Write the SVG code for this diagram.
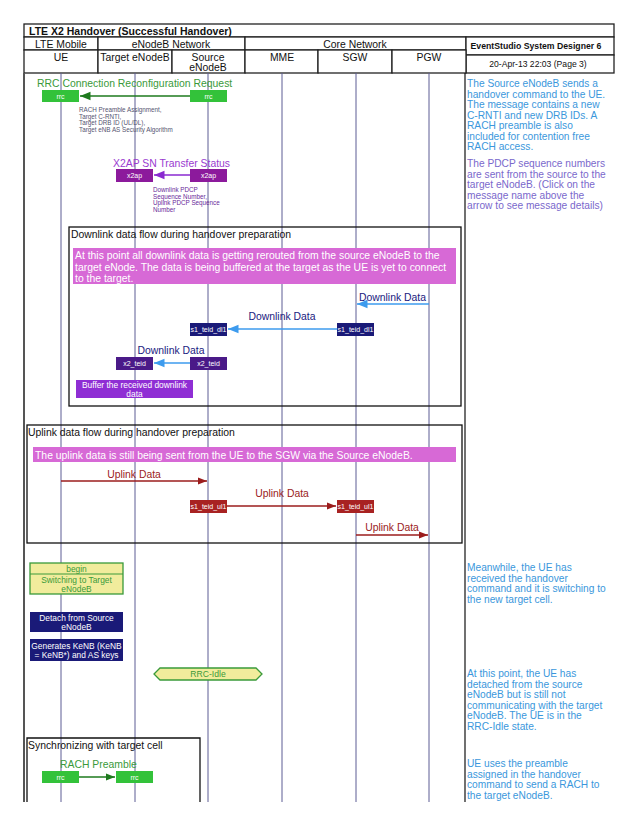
<svg xmlns="http://www.w3.org/2000/svg" width="638" height="826" viewBox="0 0 638 826">
<defs>
<style>
text{font-family:"Liberation Sans",Arial,sans-serif}
.hdr{font-size:10.4px;fill:#111;text-anchor:middle}
.life{stroke:#5c5c94;stroke-width:1}
.frame{fill:none;stroke:#111;stroke-width:1.3}
.cell{fill:#fff;stroke:#222;stroke-width:1.3}
.tag{font-size:7px;fill:#fff;text-anchor:middle}
.param{font-size:6.3px;fill:#555570}
.note{font-size:10.2px;fill:#3a97dc}
.note2{font-size:10.2px;fill:#7a68cc}
.msgT{font-size:10.4px}
.dl{font-size:10.4px;fill:#1a1a80}
.ul{font-size:10.4px;fill:#9b1c1c}
.wt{font-size:8.4px;fill:#fff;text-anchor:middle}
.ftitle{font-size:10.4px;fill:#111}
</style>
<marker id="aG" viewBox="0 0 10 10" refX="10" refY="5" markerWidth="7" markerHeight="7" orient="auto"><path d="M0,1 L10,5 L0,9 z" fill="#1e7a1e"/></marker>
<marker id="aP" viewBox="0 0 10 10" refX="10" refY="5" markerWidth="7" markerHeight="7" orient="auto"><path d="M0,1 L10,5 L0,9 z" fill="#8a2ad0"/></marker>
<marker id="aB" viewBox="0 0 10 10" refX="10" refY="5" markerWidth="7" markerHeight="7" orient="auto"><path d="M0,1 L10,5 L0,9 z" fill="#3d9bee"/></marker>
<marker id="aR" viewBox="0 0 10 10" refX="10" refY="5" markerWidth="7" markerHeight="7" orient="auto"><path d="M0,1 L10,5 L0,9 z" fill="#9b1c1c"/></marker>
</defs>
<rect width="638" height="826" fill="#fff"/>

<g id="header">
<rect x="24" y="24" width="590" height="13" class="cell"/>
<text x="29" y="34.5" font-size="10.5" font-weight="bold" fill="#111">LTE X2 Handover (Successful Handover)</text>
<rect x="24" y="37" width="74" height="13" class="cell"/>
<rect x="98" y="37" width="147" height="13" class="cell"/>
<rect x="245" y="37" width="221" height="13" class="cell"/>
<rect x="466" y="37" width="148" height="18" class="cell"/>
<rect x="466" y="55" width="148" height="18" class="cell"/>
<rect x="24" y="50" width="74" height="23" class="cell"/>
<rect x="98" y="50" width="74" height="23" class="cell"/>
<rect x="172" y="50" width="73" height="23" class="cell"/>
<rect x="245" y="50" width="73" height="23" class="cell"/>
<rect x="318" y="50" width="74" height="23" class="cell"/>
<rect x="392" y="50" width="74" height="23" class="cell"/>
<text x="61" y="47.5" class="hdr">LTE Mobile</text>
<text x="171" y="47.5" class="hdr">eNodeB Network</text>
<text x="355" y="47.5" class="hdr">Core Network</text>
<text x="536" y="49" font-size="8.7" font-weight="bold" text-anchor="middle" fill="#111">EventStudio System Designer 6</text>
<text x="538" y="67" font-size="8.6" text-anchor="middle" fill="#111">20-Apr-13 22:03 (Page 3)</text>
<text x="61" y="60.5" class="hdr">UE</text>
<text x="135" y="60.5" class="hdr">Target eNodeB</text>
<text x="208" y="60.5" class="hdr">Source</text>
<text x="208" y="71" class="hdr">eNodeB</text>
<text x="282" y="60.5" class="hdr">MME</text>
<text x="355" y="60.5" class="hdr">SGW</text>
<text x="429" y="60.5" class="hdr">PGW</text>
</g>

<g id="page-borders">
<line x1="24" y1="73" x2="24" y2="802" stroke="#555" stroke-width="2"/>
<line x1="465" y1="73" x2="465" y2="802" stroke="#111" stroke-width="1.2"/>
</g>

<g id="lifelines">
<line x1="61" y1="73" x2="61" y2="802" class="life"/>
<line x1="135" y1="73" x2="135" y2="802" class="life"/>
<line x1="208" y1="73" x2="208" y2="802" class="life"/>
<line x1="282" y1="73" x2="282" y2="802" class="life"/>
<line x1="356" y1="73" x2="356" y2="802" class="life"/>
<line x1="429" y1="73" x2="429" y2="802" class="life"/>
</g>

<g id="frame-downlink">
<rect x="69" y="227" width="392" height="179" class="frame"/>
<text x="71" y="238" class="ftitle">Downlink data flow during handover preparation</text>
</g>
<g id="frame-uplink">
<rect x="27" y="425" width="435" height="118" class="frame"/>
<text x="28" y="436" class="ftitle">Uplink data flow during handover preparation</text>
</g>
<g id="frame-sync">
<path d="M27,802 V738 H200 V802" class="frame"/>
<text x="28" y="749" class="ftitle">Synchronizing with target cell</text>
</g>

<g id="connectors">
<line x1="190" y1="96" x2="80" y2="96" stroke="#1e7a1e" stroke-width="1.5" marker-end="url(#aG)"/>
<line x1="190" y1="175" x2="154" y2="175" stroke="#8a2ad0" stroke-width="1.5" marker-end="url(#aP)"/>
<line x1="429" y1="304" x2="357" y2="304" stroke="#3d9bee" stroke-width="1.5" marker-end="url(#aB)"/>
<line x1="337" y1="329" x2="228" y2="329" stroke="#3d9bee" stroke-width="1.5" marker-end="url(#aB)"/>
<line x1="190" y1="363" x2="154" y2="363" stroke="#3d9bee" stroke-width="1.5" marker-end="url(#aB)"/>
<line x1="61" y1="481" x2="207" y2="481" stroke="#9b1c1c" stroke-width="1.3" marker-end="url(#aR)"/>
<line x1="227" y1="506" x2="336" y2="506" stroke="#9b1c1c" stroke-width="1.3" marker-end="url(#aR)"/>
<line x1="356" y1="535" x2="428" y2="535" stroke="#9b1c1c" stroke-width="1.3" marker-end="url(#aR)"/>
<line x1="79" y1="777" x2="115" y2="777" stroke="#1e7a1e" stroke-width="1.3" marker-end="url(#aG)"/>
</g>

<g id="msg-rrc-reconfig">
<text x="37" y="86.5" class="msgT" fill="#3a9a3a">RRC Connection Reconfiguration Request</text>
<rect x="42" y="90" width="37" height="12" fill="#33c23a"/>
<text x="60.5" y="98.5" class="tag">rrc</text>
<rect x="190" y="90" width="37" height="12" fill="#33c23a"/>
<text x="208.5" y="98.5" class="tag">rrc</text>
<text class="param"><tspan x="79" y="112">RACH Preamble Assignment,</tspan><tspan x="79" y="118.5">Target C-RNTI,</tspan><tspan x="79" y="125">Target DRB ID (UL/DL),</tspan><tspan x="79" y="131.5">Target eNB AS Security Algorithm</tspan></text>
</g>

<g id="msg-x2ap">
<text x="113" y="166.5" class="msgT" fill="#9a3ad0">X2AP SN Transfer Status</text>
<rect x="116" y="169" width="37" height="13" fill="#8c1a9c"/>
<text x="134.5" y="178" class="tag">x2ap</text>
<rect x="190" y="169" width="37" height="13" fill="#8c1a9c"/>
<text x="208.5" y="178" class="tag">x2ap</text>
<text class="param" style="fill:#6a2a9a"><tspan x="153" y="192">Downlink PDCP</tspan><tspan x="153" y="198.5">Sequence Number,</tspan><tspan x="153" y="205">Uplink PDCP Sequence</tspan><tspan x="153" y="211.5">Number</tspan></text>
</g>

<g id="note-downlink">
<rect x="73" y="248" width="383" height="36" fill="#d769d6"/>
<text font-size="10.4" fill="#fff"><tspan x="75" y="259">At this point all downlink data is getting rerouted from the source eNodeB to the</tspan><tspan x="75" y="270.5">target eNode.  The data is being buffered at the target as the UE is yet to connect</tspan><tspan x="75" y="282">to the target.</tspan></text>
</g>

<g id="msg-dl-pgw-sgw">
<text x="359" y="301" class="dl">Downlink Data</text>
</g>
<g id="msg-dl-sgw-src">
<text x="282" y="320" class="dl" text-anchor="middle">Downlink Data</text>
<rect x="190" y="323" width="37" height="13" fill="#1a1a78"/>
<text x="208.5" y="332" class="tag">s1_teid_dl1</text>
<rect x="337" y="323" width="37" height="13" fill="#1a1a78"/>
<text x="355.5" y="332" class="tag">s1_teid_dl1</text>
</g>
<g id="msg-dl-src-tgt">
<text x="171" y="354" class="dl" text-anchor="middle">Downlink Data</text>
<rect x="116" y="357" width="37" height="13" fill="#4a1a88"/>
<text x="134.5" y="366" class="tag">x2_teid</text>
<rect x="190" y="357" width="37" height="13" fill="#4a1a88"/>
<text x="208.5" y="366" class="tag">x2_teid</text>
</g>
<g id="action-buffer">
<rect x="76" y="380" width="117" height="18" fill="#8f2ed4"/>
<text x="134.5" y="388" class="wt">Buffer the received downlink</text>
<text x="134.5" y="396.5" class="wt">data</text>
</g>

<g id="note-uplink">
<rect x="33" y="447" width="423" height="15" fill="#d769d6"/>
<text x="35" y="458.5" font-size="10.4" fill="#fff">The uplink data is still being sent from the UE to the SGW via the Source eNodeB.</text>
</g>
<g id="msg-ul-ue-src">
<text x="134" y="478" class="ul" text-anchor="middle">Uplink Data</text>
</g>
<g id="msg-ul-src-sgw">
<text x="282" y="497" class="ul" text-anchor="middle">Uplink Data</text>
<rect x="190" y="500" width="37" height="13" fill="#a82222"/>
<text x="208.5" y="509" class="tag">s1_teid_ul1</text>
<rect x="337" y="500" width="37" height="13" fill="#a82222"/>
<text x="355.5" y="509" class="tag">s1_teid_ul1</text>
</g>
<g id="msg-ul-sgw-pgw">
<text x="392" y="531" class="ul" text-anchor="middle">Uplink Data</text>
</g>

<g id="action-begin">
<rect x="30" y="563" width="93" height="31" fill="#f1ec9c" stroke="#3a9a3a" stroke-width="1.3"/>
<line x1="30" y1="574" x2="123" y2="574" stroke="#3a9a3a" stroke-width="1"/>
<text x="76.5" y="571.5" font-size="8.4" fill="#3a9a3a" text-anchor="middle">begin</text>
<text x="76.5" y="582.5" font-size="8.4" fill="#3a9a3a" text-anchor="middle">Switching to Target</text>
<text x="76.5" y="591.5" font-size="8.4" fill="#3a9a3a" text-anchor="middle">eNodeB</text>
</g>
<g id="action-detach">
<rect x="30" y="612" width="93" height="20" fill="#1a1a78"/>
<text x="76.5" y="620.5" class="wt">Detach from Source</text>
<text x="76.5" y="629.5" class="wt">eNodeB</text>
</g>
<g id="action-keys">
<rect x="30" y="639" width="93" height="22" fill="#1a1a78"/>
<text x="76.5" y="648.5" class="wt">Generates KeNB (KeNB</text>
<text x="76.5" y="657.5" class="wt">= KeNB*) and AS keys</text>
</g>
<g id="state-rrc-idle">
<path d="M160,668 H256 L262,674 L256,680 H160 L154,674 Z" fill="#f1ec9c" stroke="#3a9a3a" stroke-width="1.3"/>
<text x="208" y="677.3" font-size="8.6" fill="#3a9a3a" text-anchor="middle">RRC-Idle</text>
</g>

<g id="msg-rach">
<text x="60" y="767.5" class="msgT" fill="#3a9a3a">RACH Preamble</text>
<rect x="42" y="771" width="37" height="12" fill="#33c23a"/>
<text x="60.5" y="779.5" class="tag">rrc</text>
<rect x="116" y="771" width="37" height="12" fill="#33c23a"/>
<text x="134.5" y="779.5" class="tag">rrc</text>
</g>

<g id="notes">
<text class="note"><tspan x="467" y="87">The Source eNodeB sends a</tspan><tspan x="467" y="97.5">handover command to the UE.</tspan><tspan x="467" y="108">The message contains a new</tspan><tspan x="467" y="118.5">C-RNTI and new DRB IDs. A</tspan><tspan x="467" y="129">RACH preamble is also</tspan><tspan x="467" y="139.5">included for contention free</tspan><tspan x="467" y="150">RACH access.</tspan></text>
<text class="note2"><tspan x="467" y="167">The PDCP sequence numbers</tspan><tspan x="467" y="177.5">are sent from the source to the</tspan><tspan x="467" y="188">target eNodeB. (Click on the</tspan><tspan x="467" y="198.5">message name above the</tspan><tspan x="467" y="209">arrow to see message details)</tspan></text>
<text class="note"><tspan x="467" y="571">Meanwhile, the UE has</tspan><tspan x="467" y="581.5">received the handover</tspan><tspan x="467" y="592">command and it is switching to</tspan><tspan x="467" y="602.5">the new target cell.</tspan></text>
<text class="note"><tspan x="467" y="677">At this point, the UE has</tspan><tspan x="467" y="687.5">detached from the source</tspan><tspan x="467" y="698">eNodeB but is still not</tspan><tspan x="467" y="708.5">communicating with the target</tspan><tspan x="467" y="719">eNodeB. The UE is in the</tspan><tspan x="467" y="729.5">RRC-Idle state.</tspan></text>
<text class="note"><tspan x="467" y="767">UE uses the preamble</tspan><tspan x="467" y="777.5">assigned in the handover</tspan><tspan x="467" y="788">command to send a RACH to</tspan><tspan x="467" y="798.5">the target eNodeB.</tspan></text>
</g>
</svg>
